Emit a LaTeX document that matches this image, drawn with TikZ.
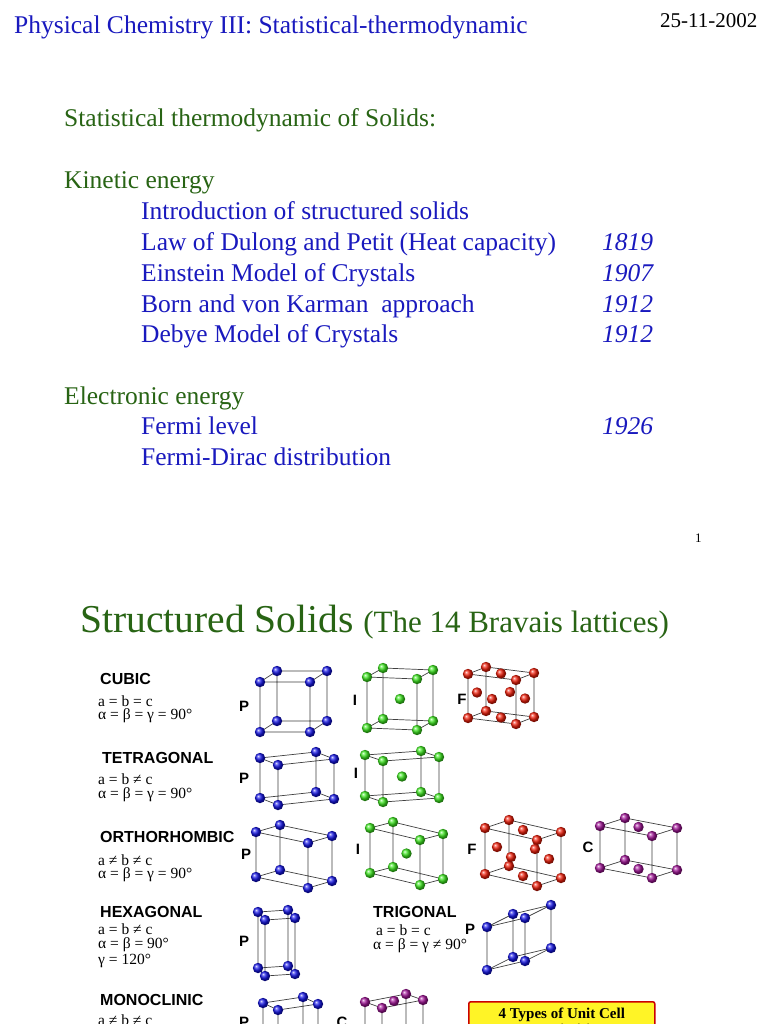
\documentclass[tikz,border=0pt]{standalone}
\usepackage{fontspec}
\setmainfont{Liberation Serif}
\newfontfamily\lsans{Liberation Sans}
\usetikzlibrary{calc}
\definecolor{tgreen}{RGB}{40,100,20}
\definecolor{tblue}{RGB}{25,25,190}
\definecolor{bblue}{RGB}{20,20,230}
\definecolor{bgreen}{RGB}{60,230,30}
\definecolor{bred}{RGB}{240,30,10}
\definecolor{bpurp}{RGB}{160,20,150}
\tikzset{
 head/.style={anchor=base west,text=tgreen,font=\fontsize{25.5}{25.5}\selectfont,inner sep=0,yshift=-8pt},
 item/.style={anchor=base west,text=tblue,font=\fontsize{25.5}{25.5}\selectfont,inner sep=0,yshift=-8pt},
 year/.style={anchor=base west,text=tblue,font=\fontsize{25.5}{25.5}\selectfont\itshape,inner sep=0,yshift=-8pt},
 latname/.style={anchor=west,font=\lsans\bfseries\fontsize{16}{16}\selectfont,inner sep=0},
 latrel/.style={anchor=west,font=\fontsize{15.5}{15.5}\selectfont,inner sep=0},
 letter/.style={font=\lsans\bfseries\fontsize{15}{15}\selectfont,inner sep=0},
 edge/.style={line width=0.7pt,black!75},
}
\newcommand\latcell[8]{%
 \coordinate (t1) at (#1,#2);
 \coordinate (t2) at ($(t1)+(#3,#4)$);
 \coordinate (t3) at ($(t1)+(#5,#6)$);
 \coordinate (t4) at ($(t2)+(#5,#6)$);
 \coordinate (b1) at ($(t1)+(0,#7)$);
 \coordinate (b2) at ($(t2)+(0,#7)$);
 \coordinate (b3) at ($(t3)+(0,#7)$);
 \coordinate (b4) at ($(t4)+(0,#7)$);
 \draw[edge] (t1)--(t2)--(t4)--(t3)--cycle (b1)--(b2)--(b4)--(b3)--cycle
   (t1)--(b1) (t2)--(b2) (t3)--(b3) (t4)--(b4);
 \foreach \p in {t1,t2,t3,t4,b1,b2,b3,b4}{\shade[ball color=#8] (\p) circle (5.2);}
}
\newcommand\ballat[2]{\shade[ball color=#2] #1 circle (5.2);}
\newcommand\bodyc[1]{\ballat{($(t1)!0.5!(b4)$)}{#1}}
\newcommand\topbot[1]{\ballat{($(t1)!0.5!(t4)$)}{#1}\ballat{($(b1)!0.5!(b4)$)}{#1}}
\newcommand\faces[1]{\topbot{#1}%
 \ballat{($(t1)!0.5!(b2)$)}{#1}\ballat{($(t3)!0.5!(b4)$)}{#1}%
 \ballat{($(t1)!0.5!(b3)$)}{#1}\ballat{($(t2)!0.5!(b4)$)}{#1}}
\begin{document}
\begin{tikzpicture}[x=1pt,y=-1pt]
\useasboundingbox (0,0) rectangle (768,1024);
\clip (0,0) rectangle (768,1024);
\fill[white] (0,0) rectangle (768,1024);
\node[anchor=west,text=tblue,font=\fontsize{25.5}{25.5}\selectfont,inner sep=0] (title) at (14,27) {Physical Chemistry III: Statistical-thermodynamic};
\node[anchor=west,font=\fontsize{21}{21}\selectfont,inner sep=0] (date) at (660,21) {25-11-2002};
\node[head] (h0) at (64,119) {Statistical thermodynamic of Solids:};
\node[head] (h1) at (64,181) {Kinetic energy};
\node[item] (i1) at (141,211) {Introduction of structured solids};
\node[item] (i2) at (141,242) {Law of Dulong and Petit (Heat capacity)};
\node[item] (i3) at (141,273) {Einstein Model of Crystals};
\node[item] (i4) at (141,304) {Born and von Karman\ \ approach};
\node[item] (i5) at (141,334) {Debye Model of Crystals};
\node[year] (y2) at (602,242) {1819};
\node[year] (y3) at (602,273) {1907};
\node[year] (y4) at (602,304) {1912};
\node[year] (y5) at (602,334) {1912};
\node[head] (h2) at (64,396) {Electronic energy};
\node[item] (i6) at (141,426) {Fermi level};
\node[item] (i7) at (141,457) {Fermi-Dirac distribution};
\node[year] (y6) at (602,426) {1926};
\node[anchor=west,font=\fontsize{13}{13}\selectfont,inner sep=0] (pg) at (695,538) {1};
\node[anchor=west,text=tgreen,inner sep=0] (ss) at (80,622) {\fontsize{39.5}{40}\selectfont Structured Solids \fontsize{31}{31}\selectfont(The 14 Bravais lattices)};
% labels
\node[latname] (cub) at (100,679) {CUBIC};
\node[latrel] (cub1) at (98,701) {a = b = c};
\node[latrel] (cub2) at (98,716) {α = β = γ = 90°};
\node[latname] (tet) at (102,758) {TETRAGONAL};
\node[latrel] (tet1) at (98,779) {a = b ≠ c};
\node[latrel] (tet2) at (98,795) {α = β = γ = 90°};
\node[latname] (ort) at (100,837) {ORTHORHOMBIC};
\node[latrel] (ort1) at (98,860) {a ≠ b ≠ c};
\node[latrel] (ort2) at (98,875) {α = β = γ = 90°};
\node[latname] (hex) at (100,912) {HEXAGONAL};
\node[latrel] (hex1) at (98,929) {a = b ≠ c};
\node[latrel] (hex2) at (98,945) {α = β = 90°};
\node[latrel] (hex3) at (98,961) {γ = 120°};
\node[latname] (tri) at (373,912) {TRIGONAL};
\node[latrel] (tri1) at (376,930) {a = b = c};
\node[latrel] (tri2) at (373,946) {α = β = γ ≠ 90°};
\node[latname] (mon) at (100,1000) {MONOCLINIC};
\node[latrel] (mon1) at (98,1020) {a ≠ b ≠ c};
% letters
\foreach \t/\x/\y in {P/244/706,I/355/700,F/462/699,P/244/778,I/356/773,P/246/854,I/358/849,F/472/849,C/588/847,P/244/941,P/470/929,P/244/1022,C/342/1022}
  \node[letter] at (\x,\y) {\t};
% cells
\latcell{260}{682}{50}{0}{17}{-11}{50}{bblue}
\latcell{367}{677}{50}{2}{16}{-9}{51}{bgreen}\bodyc{bgreen}
\latcell{468}{674}{48}{6}{18}{-7}{44}{bred}\faces{bred}
\latcell{278}{765}{56}{-6}{-18}{-7}{40}{bblue}
\latcell{383}{761}{56}{-4}{-18}{-6}{41}{bgreen}\bodyc{bgreen}
\latcell{256}{832}{52}{11}{24}{-7}{45}{bblue}
\latcell{370}{828}{50}{12}{23}{-6}{45}{bgreen}\bodyc{bgreen}
\latcell{485}{828}{52}{12}{24}{-8}{46}{bred}\faces{bred}
\latcell{600}{826}{52}{10}{25}{-8}{42}{bpurp}\topbot{bpurp}
\latcell{265}{920}{30}{-2}{-7}{-8}{56}{bblue}
\latcell{487}{927}{26}{-13}{38}{-9}{43}{bblue}
\latcell{278}{1010}{40}{-6}{-15}{-7}{60}{bblue}
\latcell{382}{1008}{41}{-8}{-17}{-6}{60}{bpurp}\topbot{bpurp}
% box
\node[draw=red!80!black,line width=1.5pt,fill=yellow!85!white,rounded corners=2pt,minimum width=186pt,minimum height=40pt,anchor=north west,inner sep=2pt,align=center,font=\bfseries\fontsize{15}{16}\selectfont] (types) at (468,1001) {4 Types of Unit Cell\\P = Primitive};
\end{tikzpicture}
\end{document}
